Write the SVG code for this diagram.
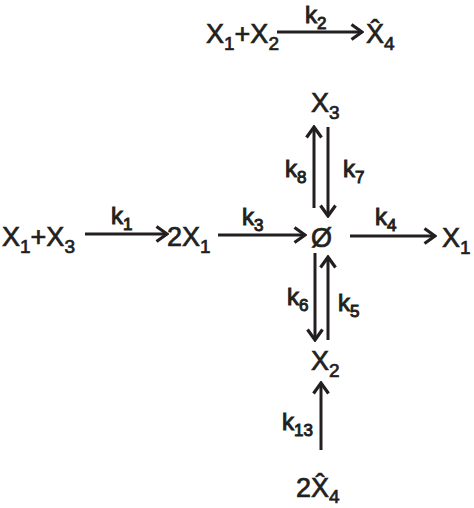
<svg xmlns="http://www.w3.org/2000/svg" width="474" height="508" viewBox="0 0 474 508">
<style>
  text { font-family: "Liberation Sans", Arial, sans-serif; fill: #231f20; stroke: #231f20; stroke-width: 0.7px; }
  .n { font-size: 27px; }
  .s { font-size: 19px; }
  .k { font-size: 24px; stroke-width: 1px; }
  .ks { font-size: 17px; }
  .c line { stroke: #231f20; stroke-width: 3; marker-end: url(#ah); }
</style>
<defs>
  <marker id="ah" markerUnits="userSpaceOnUse" viewBox="0 0 14 18" refX="12" refY="9" markerWidth="14" markerHeight="18" orient="auto">
    <path d="M1.5,1.5 L12,9 L1.5,16.5" fill="none" stroke="#231f20" stroke-width="3.2" stroke-linejoin="miter"/>
  </marker>
</defs>
<rect width="474" height="508" fill="#ffffff"/>

<g id="node-x1x2"><text class="n" x="206" y="43">X<tspan class="s" dy="7">1</tspan><tspan dy="-7">+X</tspan><tspan class="s" dy="7">2</tspan></text></g>
<g id="node-x4hat-top"><text class="n" x="366" y="43">X&#x302;<tspan class="s" dy="7">4</tspan></text></g>

<g id="node-x1x3"><text class="n" x="2" y="246">X<tspan class="s" dy="7">1</tspan><tspan dy="-7">+X</tspan><tspan class="s" dy="7">3</tspan></text></g>
<g id="node-2x1"><text class="n" x="167" y="246">2X<tspan class="s" dy="7">1</tspan></text></g>
<g id="node-empty"><text class="n" x="311" y="247">Ø</text></g>
<g id="node-x1-right"><text class="n" x="442" y="247">X<tspan class="s" dy="7">1</tspan></text></g>
<g id="node-x3"><text class="n" x="311" y="112">X<tspan class="s" dy="7">3</tspan></text></g>
<g id="node-x2"><text class="n" x="311" y="370">X<tspan class="s" dy="7">2</tspan></text></g>
<g id="node-2x4hat"><text class="n" x="296" y="497">2X&#x302;<tspan class="s" dy="6">4</tspan></text></g>

<g id="connectors" class="c">
  <line x1="277" y1="32" x2="362" y2="32"/>
  <line x1="85" y1="234" x2="167" y2="234"/>
  <line x1="218" y1="235" x2="305" y2="235"/>
  <line x1="350" y1="236" x2="435" y2="236"/>
  <line x1="314" y1="208" x2="314" y2="127"/>
  <line x1="328" y1="127" x2="328" y2="216"/>
  <line x1="315" y1="253" x2="315" y2="340"/>
  <line x1="328" y1="340" x2="328" y2="257"/>
  <line x1="321" y1="450" x2="321" y2="383"/>
</g>

<g id="labels">
  <text class="k" x="305" y="23">k<tspan class="ks" dy="6">2</tspan></text>
  <text class="k" x="111" y="224">k<tspan class="ks" dy="6">1</tspan></text>
  <text class="k" x="242" y="225">k<tspan class="ks" dy="6">3</tspan></text>
  <text class="k" x="375" y="225">k<tspan class="ks" dy="6">4</tspan></text>
  <text class="k" x="285" y="177">k<tspan class="ks" dy="6">8</tspan></text>
  <text class="k" x="343" y="177">k<tspan class="ks" dy="6">7</tspan></text>
  <text class="k" x="287" y="305">k<tspan class="ks" dy="6">6</tspan></text>
  <text class="k" x="338" y="311">k<tspan class="ks" dy="6">5</tspan></text>
  <text class="k" x="282" y="430">k<tspan class="ks" dy="6">13</tspan></text>
</g>
</svg>
